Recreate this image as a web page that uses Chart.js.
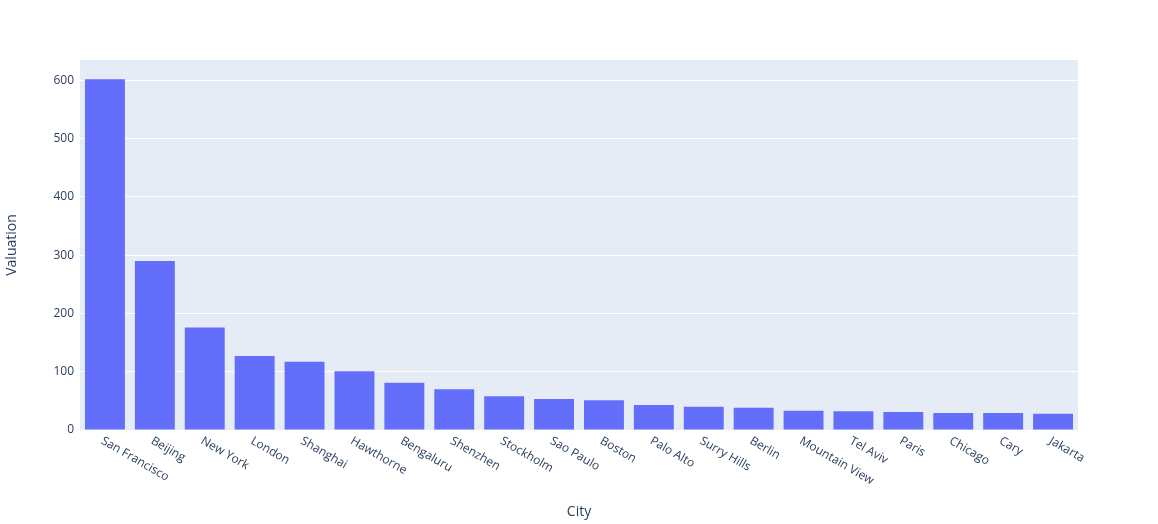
<!DOCTYPE html>
<html>
<head>
<meta charset="utf-8">
<script src="https://cdn.jsdelivr.net/npm/chart.js@4"></script>
<style>
  html, body { margin: 0; padding: 0; background: #fff; }
  #wrap { width: 1158px; height: 524px; }
</style>
</head>
<body>
<div id="wrap"><canvas id="cityChart"></canvas></div>
<script>
const cities = ['San Francisco', 'Beijing', 'New York', 'London', 'Shanghai', 'Hawthorne',
  'Bengaluru', 'Shenzhen', 'Stockholm', 'Sao Paulo', 'Boston', 'Palo Alto', 'Surry Hills',
  'Berlin', 'Mountain View', 'Tel Aviv', 'Paris', 'Chicago', 'Cary', 'Jakarta'];
const valuations = [602, 290, 176, 127, 117, 101, 81, 70, 58, 53, 51, 43, 40, 38, 33, 32, 31, 29, 29, 28];
const yTicks = [0, 100, 200, 300, 400, 500, 600];

const fontFamily = '"Open Sans", "Noto Sans", sans-serif';
const textColor = '#2a3f5f';

// plot background + slanted city labels (Plotly style, rotated downward to the right)
const plotlyLook = {
  id: 'plotlyLook',
  beforeDraw(chart) {
    const { ctx, chartArea: a } = chart;
    ctx.save();
    ctx.fillStyle = '#E5ECF6';
    ctx.fillRect(a.left, a.top, a.right - a.left, a.bottom - a.top);
    ctx.restore();
  },
  afterDraw(chart) {
    const { ctx, scales: { x } } = chart;
    ctx.save();
    ctx.font = '12px ' + fontFamily;
    ctx.fillStyle = textColor;
    ctx.textAlign = 'left';
    ctx.textBaseline = 'middle';
    cities.forEach((c, i) => {
      const px = x.getPixelForTick(i);
      ctx.save();
      ctx.translate(px - 3, x.top + 10);
      ctx.rotate(Math.PI / 6);
      ctx.fillText(c, 0, 0);
      ctx.restore();
    });
    ctx.restore();
  }
};

new Chart(document.getElementById('cityChart'), {
  type: 'bar',
  data: {
    labels: cities,
    datasets: [{
      data: valuations,
      backgroundColor: '#636EFA',
      barPercentage: 0.8,
      categoryPercentage: 1.0
    }]
  },
  plugins: [plotlyLook],
  options: {
    responsive: true,
    maintainAspectRatio: false,
    animation: false,
    layout: { padding: { top: 60, right: 80, left: 0, bottom: 0 } },
    plugins: { legend: { display: false }, tooltip: { enabled: false } },
    scales: {
      x: {
        grid: { display: false },
        border: { display: false },
        ticks: { display: false },
        title: { display: true, text: 'City', color: textColor, font: { family: fontFamily, size: 14 }, padding: { top: 68 } },
        afterFit(s) { s.height = 94; }
      },
      y: {
        min: 0,
        max: 635,
        afterBuildTicks(s) { s.ticks = yTicks.map(v => ({ value: v })); },
        grid: { color: '#ffffff', lineWidth: 1, drawTicks: false },
        border: { display: false },
        ticks: { color: textColor, font: { family: fontFamily, size: 12 }, padding: 6 },
        title: { display: true, text: 'Valuation', color: textColor, font: { family: fontFamily, size: 14 } },
        afterFit(s) { s.width = 80; }
      }
    }
  }
});
</script>
</body>
</html>
